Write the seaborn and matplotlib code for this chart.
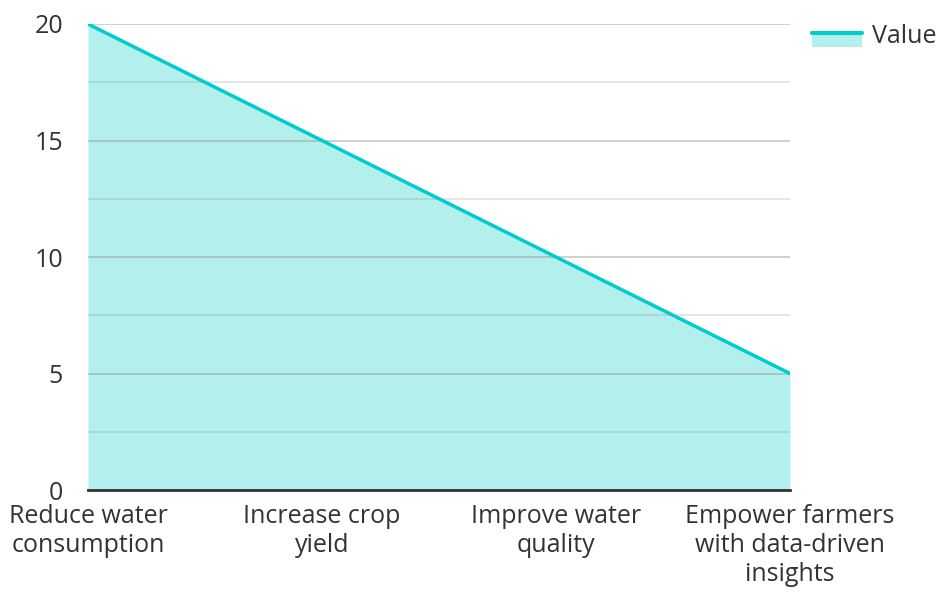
import matplotlib.pyplot as plt
import seaborn as sns
import pandas as pd
from matplotlib.lines import Line2D
from matplotlib.patches import Rectangle
from matplotlib.legend_handler import HandlerBase

# Chart data
categories = ["Reduce water\nconsumption", "Increase crop\nyield",
              "Improve water\nquality", "Empower farmers\nwith data-driven\ninsights"]
values = [20, 15, 10, 5]

df = pd.DataFrame({"pos": range(len(categories)), "value": values})

sns.set_style("white")
plt.rcParams["font.family"] = ["Open Sans", "DejaVu Sans"]

line_color = "#00cccc"
fill_color = "#b2efed"


class AreaHandler(HandlerBase):
    # filled box with the line along its top edge
    def create_artists(self, legend, orig_handle, xdescent, ydescent,
                       width, height, fontsize, trans):
        top = -ydescent + height * 0.58
        rect = Rectangle((-xdescent, top - height * 0.8), width, height * 0.8,
                         facecolor=fill_color, edgecolor="none", transform=trans)
        ln = Line2D([-xdescent, -xdescent + width], [top, top],
                    color=line_color, linewidth=3, transform=trans)
        return [rect, ln]


fig = plt.figure(figsize=(9.39, 5.97), dpi=100)
ax = fig.add_axes([0.0937, 0.1792, 0.7476, 0.7806])

ax.fill_between(df["pos"], df["value"], color=fill_color, lw=0, zorder=1)
sns.lineplot(data=df, x="pos", y="value", color=line_color, linewidth=2.5, ax=ax, zorder=3)

ax.set_xlim(0, len(categories) - 1)
ax.set_ylim(0, 20)
ax.set_yticks([0, 5, 10, 15, 20])
ax.set_yticks([2.5, 7.5, 12.5, 17.5], minor=True)
ax.set_xticks(df["pos"])
ax.set_xticklabels(categories)

ax.grid(axis="y", which="major", color="#999999", alpha=0.55, linewidth=1.2, zorder=2)
ax.grid(axis="y", which="minor", color="#999999", alpha=0.3, linewidth=1.2, zorder=2)
ax.set_axisbelow(False)

for side in ["top", "right", "left"]:
    ax.spines[side].set_visible(False)
ax.spines["bottom"].set_color("#333333")
ax.spines["bottom"].set_linewidth(2)
ax.spines["bottom"].set_zorder(4)

ax.tick_params(axis="both", which="both", length=0, labelsize=18, colors="#333333")
ax.tick_params(axis="y", pad=18)
ax.tick_params(axis="x", pad=10)
ax.set_xlabel("")
ax.set_ylabel("")

leg = fig.legend([object()], ["Value"], handler_map={object: AreaHandler()},
                 loc="upper right", bbox_to_anchor=(1.008, 0.977), frameon=False,
                 fontsize=18, handlelength=2.0, handletextpad=0.4,
                 borderaxespad=0)
for t in leg.get_texts():
    t.set_color("#333333")

fig.savefig("out.png", dpi=100)
